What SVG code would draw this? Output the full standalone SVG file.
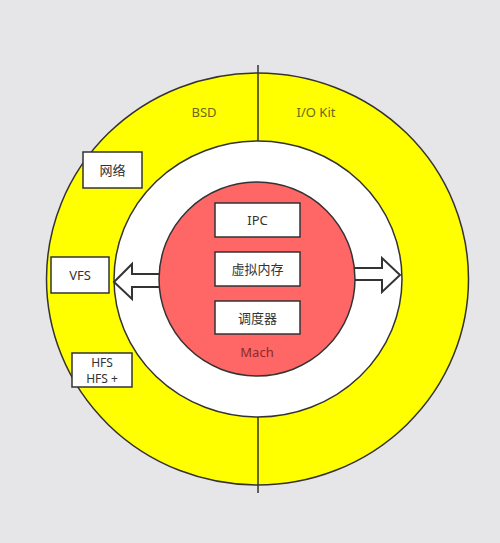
<svg xmlns="http://www.w3.org/2000/svg" width="500" height="543" viewBox="0 0 500 543">
<style>
.t{font-family:"Noto Sans","Noto Sans CJK SC",sans-serif;font-size:13px;text-anchor:middle;dominant-baseline:central}
.s{font-size:12px}
.box{fill:#ffffff;stroke:#333333;stroke-width:1.5}
.ring{stroke:#333333;stroke-width:1.5}
.arrow{fill:#ffffff;stroke:#333333;stroke-width:2;stroke-linejoin:miter}
</style>
<rect x="0" y="0" width="500" height="543" fill="#e6e5e7"/>
<g id="bsd-iokit">
<ellipse class="ring" cx="257.5" cy="279" rx="211" ry="206" fill="#ffff00"/>
<text class="t" x="204" y="112" fill="#6a6a1a">BSD</text>
<text class="t" x="316" y="112" fill="#6a6a1a">I/O Kit</text>
</g>
<g id="middle-ring">
<ellipse class="ring" cx="258" cy="279" rx="144" ry="138" fill="#ffffff"/>
</g>
<g id="connectors">
<line x1="258" y1="65" x2="258" y2="141" stroke="#333333" stroke-width="1.5"/>
<line x1="258" y1="417" x2="258" y2="493" stroke="#333333" stroke-width="1.5"/>
<polygon class="arrow" points="160,274 132,274 132,264 114,282 132,299 132,287 160,287"/>
<polygon class="arrow" points="353,268 382,268 382,258 400,275 382,292 382,280 353,280"/>
</g>
<g id="mach">
<ellipse class="ring" cx="257" cy="279" rx="98" ry="97" fill="#ff6666"/>
<text class="t" x="257" y="352" fill="#8a2a2a">Mach</text>
</g>
<g id="ipc">
<rect class="box" x="215" y="203" width="85" height="34"/>
<text class="t" x="257.5" y="220" fill="#333333">IPC</text>
</g>
<g id="vm">
<rect class="box" x="215" y="252" width="85" height="34"/>
<text class="t" x="257.5" y="269" fill="#333333">虚拟内存</text>
</g>
<g id="scheduler">
<rect class="box" x="215" y="301" width="85" height="33"/>
<text class="t" x="257.5" y="317.5" fill="#333333">调度器</text>
</g>
<g id="network">
<rect class="box" x="83" y="152" width="59" height="36"/>
<text class="t" x="112.5" y="170" fill="#333333">网络</text>
</g>
<g id="vfs">
<rect class="box" x="51" y="257" width="58" height="36"/>
<text class="t" x="80" y="275" fill="#333333">VFS</text>
</g>
<g id="hfs">
<rect class="box" x="72" y="353" width="60" height="34"/>
<text class="t s" x="102" y="362.5" fill="#333333">HFS</text>
<text class="t s" x="102" y="378" fill="#333333">HFS +</text>
</g>
</svg>
